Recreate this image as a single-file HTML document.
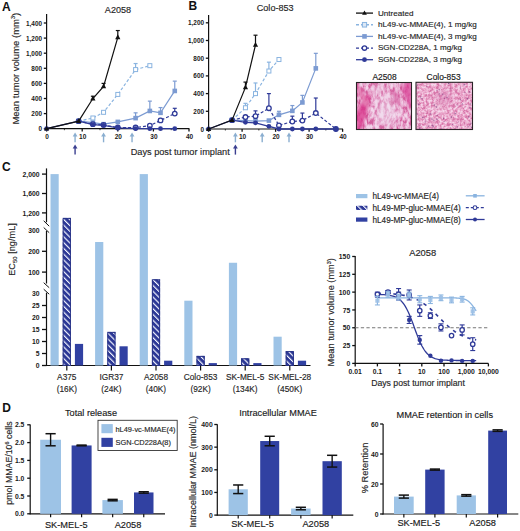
<!DOCTYPE html>
<html><head><meta charset="utf-8"><style>
html,body{margin:0;padding:0;background:#fff;width:520px;height:531px;overflow:hidden}
svg{display:block;font-family:"Liberation Sans",sans-serif}
</style></head><body>
<svg width="520" height="531" viewBox="0 0 520 531">
<defs>
<filter id="blur15" x="-20%" y="-20%" width="140%" height="140%"><feGaussianBlur stdDeviation="1.5"/></filter>
<filter id="blur3" x="-30%" y="-30%" width="160%" height="160%"><feGaussianBlur stdDeviation="3"/></filter>
<filter id="tex1" x="0" y="0" width="100%" height="100%" color-interpolation-filters="sRGB">
<feTurbulence type="fractalNoise" baseFrequency="0.32 0.16" numOctaves="3" seed="4" result="n"/>
<feColorMatrix in="n" type="matrix" values="1 0 0 0 0  1 0 0 0 0  1 0 0 0 0  0 0 0 0 1" result="g"/>
<feComponentTransfer in="g" result="s"><feFuncR type="linear" slope="2.4" intercept="-0.7"/><feFuncG type="linear" slope="2.4" intercept="-0.7"/><feFuncB type="linear" slope="2.4" intercept="-0.7"/></feComponentTransfer>
<feComponentTransfer in="s"><feFuncR type="table" tableValues="0.83 0.89 0.93 0.95"/><feFuncG type="table" tableValues="0.38 0.58 0.74 0.84"/><feFuncB type="table" tableValues="0.62 0.76 0.86 0.92"/></feComponentTransfer>
</filter>
<filter id="tex2" x="0" y="0" width="100%" height="100%" color-interpolation-filters="sRGB">
<feTurbulence type="fractalNoise" baseFrequency="0.38" numOctaves="3" seed="8" result="n"/>
<feColorMatrix in="n" type="matrix" values="1 0 0 0 0  1 0 0 0 0  1 0 0 0 0  0 0 0 0 1" result="g"/>
<feComponentTransfer in="g" result="s"><feFuncR type="linear" slope="2.3" intercept="-0.65"/><feFuncG type="linear" slope="2.3" intercept="-0.65"/><feFuncB type="linear" slope="2.3" intercept="-0.65"/></feComponentTransfer>
<feComponentTransfer in="s"><feFuncR type="table" tableValues="0.84 0.90 0.94 0.96"/><feFuncG type="table" tableValues="0.46 0.60 0.72 0.84"/><feFuncB type="table" tableValues="0.66 0.76 0.84 0.92"/></feComponentTransfer>
</filter>
</defs>
<rect width="520" height="531" fill="#fff"/>
<text x="1.90" y="10.80" font-size="12" text-anchor="start" font-weight="bold" fill="#111" stroke="#111" stroke-width="0.0" >A</text>
<text x="188.40" y="10.20" font-size="12" text-anchor="start" font-weight="bold" fill="#111" stroke="#111" stroke-width="0.0" >B</text>
<text x="2.00" y="170.50" font-size="12" text-anchor="start" font-weight="bold" fill="#111" stroke="#111" stroke-width="0.0" >C</text>
<text x="2.30" y="411.70" font-size="12" text-anchor="start" font-weight="bold" fill="#111" stroke="#111" stroke-width="0.0" >D</text>
<line x1="46.60" y1="14.00" x2="46.60" y2="129.20" stroke="#111" stroke-width="1.2" />
<line x1="46.10" y1="128.70" x2="189.40" y2="128.70" stroke="#111" stroke-width="1.2" />
<line x1="43.80" y1="128.70" x2="46.60" y2="128.70" stroke="#111" stroke-width="1.3" />
<text x="42.00" y="131.20" font-size="6.4" text-anchor="end" font-weight="bold" fill="#1a1a1a" stroke="#1a1a1a" stroke-width="0.0" >0</text>
<line x1="43.80" y1="113.60" x2="46.60" y2="113.60" stroke="#111" stroke-width="1.3" />
<text x="42.00" y="116.10" font-size="6.4" text-anchor="end" font-weight="bold" fill="#1a1a1a" stroke="#1a1a1a" stroke-width="0.0" >200</text>
<line x1="43.80" y1="98.50" x2="46.60" y2="98.50" stroke="#111" stroke-width="1.3" />
<text x="42.00" y="101.00" font-size="6.4" text-anchor="end" font-weight="bold" fill="#1a1a1a" stroke="#1a1a1a" stroke-width="0.0" >400</text>
<line x1="43.80" y1="83.40" x2="46.60" y2="83.40" stroke="#111" stroke-width="1.3" />
<text x="42.00" y="85.90" font-size="6.4" text-anchor="end" font-weight="bold" fill="#1a1a1a" stroke="#1a1a1a" stroke-width="0.0" >600</text>
<line x1="43.80" y1="68.30" x2="46.60" y2="68.30" stroke="#111" stroke-width="1.3" />
<text x="42.00" y="70.80" font-size="6.4" text-anchor="end" font-weight="bold" fill="#1a1a1a" stroke="#1a1a1a" stroke-width="0.0" >800</text>
<line x1="43.80" y1="53.20" x2="46.60" y2="53.20" stroke="#111" stroke-width="1.3" />
<text x="42.00" y="55.70" font-size="6.4" text-anchor="end" font-weight="bold" fill="#1a1a1a" stroke="#1a1a1a" stroke-width="0.0" >1,000</text>
<line x1="43.80" y1="38.10" x2="46.60" y2="38.10" stroke="#111" stroke-width="1.3" />
<text x="42.00" y="40.60" font-size="6.4" text-anchor="end" font-weight="bold" fill="#1a1a1a" stroke="#1a1a1a" stroke-width="0.0" >1,200</text>
<line x1="43.80" y1="23.00" x2="46.60" y2="23.00" stroke="#111" stroke-width="1.3" />
<text x="42.00" y="25.50" font-size="6.4" text-anchor="end" font-weight="bold" fill="#1a1a1a" stroke="#1a1a1a" stroke-width="0.0" >1,400</text>
<line x1="46.60" y1="128.70" x2="46.60" y2="131.50" stroke="#111" stroke-width="1.3" />
<text x="47.10" y="138.70" font-size="6.5" text-anchor="middle" font-weight="bold" fill="#1a1a1a" stroke="#1a1a1a" stroke-width="0.0" >0</text>
<line x1="82.20" y1="128.70" x2="82.20" y2="131.50" stroke="#111" stroke-width="1.3" />
<text x="82.70" y="138.70" font-size="6.5" text-anchor="middle" font-weight="bold" fill="#1a1a1a" stroke="#1a1a1a" stroke-width="0.0" >10</text>
<line x1="117.80" y1="128.70" x2="117.80" y2="131.50" stroke="#111" stroke-width="1.3" />
<text x="118.30" y="138.70" font-size="6.5" text-anchor="middle" font-weight="bold" fill="#1a1a1a" stroke="#1a1a1a" stroke-width="0.0" >20</text>
<line x1="153.40" y1="128.70" x2="153.40" y2="131.50" stroke="#111" stroke-width="1.3" />
<text x="153.90" y="138.70" font-size="6.5" text-anchor="middle" font-weight="bold" fill="#1a1a1a" stroke="#1a1a1a" stroke-width="0.0" >30</text>
<line x1="189.00" y1="128.70" x2="189.00" y2="131.50" stroke="#111" stroke-width="1.3" />
<text x="189.50" y="138.70" font-size="6.5" text-anchor="middle" font-weight="bold" fill="#1a1a1a" stroke="#1a1a1a" stroke-width="0.0" >40</text>
<line x1="64.40" y1="128.70" x2="64.40" y2="130.20" stroke="#111" stroke-width="0.8" />
<line x1="100.00" y1="128.70" x2="100.00" y2="130.20" stroke="#111" stroke-width="0.8" />
<line x1="135.60" y1="128.70" x2="135.60" y2="130.20" stroke="#111" stroke-width="0.8" />
<line x1="171.20" y1="128.70" x2="171.20" y2="130.20" stroke="#111" stroke-width="0.8" />
<text x="118.00" y="13.00" font-size="9.1" text-anchor="middle" font-weight="normal" fill="#262626" stroke="#262626" stroke-width="0.15" >A2058</text>
<polyline points="78.64,121.15 92.88,117.98 103.56,112.32 117.80,94.42 135.60,69.58 149.84,65.66" fill="none" stroke="#8ab4e0" stroke-width="1.2" stroke-dasharray="3,2"/>
<rect x="76.64" y="119.15" width="4" height="4" fill="#fff" stroke="#8ab4e0" stroke-width="1"/>
<rect x="90.88" y="115.98" width="4" height="4" fill="#fff" stroke="#8ab4e0" stroke-width="1"/>
<rect x="101.56" y="110.32" width="4" height="4" fill="#fff" stroke="#8ab4e0" stroke-width="1"/>
<rect x="115.80" y="92.42" width="4" height="4" fill="#fff" stroke="#8ab4e0" stroke-width="1"/>
<line x1="135.60" y1="69.58" x2="135.60" y2="63.54" stroke="#8ab4e0" stroke-width="1.2" />
<line x1="133.60" y1="63.54" x2="137.60" y2="63.54" stroke="#8ab4e0" stroke-width="1.2" />
<rect x="133.60" y="67.58" width="4" height="4" fill="#fff" stroke="#8ab4e0" stroke-width="1"/>
<rect x="147.84" y="63.66" width="4" height="4" fill="#fff" stroke="#8ab4e0" stroke-width="1"/>
<polyline points="78.64,121.15 92.88,122.66 103.56,124.17 117.80,121.90 135.60,118.13 149.84,110.96 160.52,112.84 174.76,90.95" fill="none" stroke="#7c9bd2" stroke-width="1.2" />
<rect x="76.34" y="118.85" width="4.60" height="4.60" fill="#7c9bd2" />
<rect x="90.58" y="120.36" width="4.60" height="4.60" fill="#7c9bd2" />
<rect x="101.26" y="121.87" width="4.60" height="4.60" fill="#7c9bd2" />
<rect x="115.50" y="119.60" width="4.60" height="4.60" fill="#7c9bd2" />
<line x1="135.60" y1="118.13" x2="135.60" y2="112.84" stroke="#7c9bd2" stroke-width="1.2" />
<line x1="133.60" y1="112.84" x2="137.60" y2="112.84" stroke="#7c9bd2" stroke-width="1.2" />
<rect x="133.30" y="115.83" width="4.60" height="4.60" fill="#7c9bd2" />
<line x1="149.84" y1="110.96" x2="149.84" y2="101.14" stroke="#7c9bd2" stroke-width="1.2" />
<line x1="147.84" y1="101.14" x2="151.84" y2="101.14" stroke="#7c9bd2" stroke-width="1.2" />
<rect x="147.54" y="108.66" width="4.60" height="4.60" fill="#7c9bd2" />
<line x1="160.52" y1="112.84" x2="160.52" y2="107.56" stroke="#7c9bd2" stroke-width="1.2" />
<line x1="158.52" y1="107.56" x2="162.52" y2="107.56" stroke="#7c9bd2" stroke-width="1.2" />
<rect x="158.22" y="110.54" width="4.60" height="4.60" fill="#7c9bd2" />
<line x1="174.76" y1="90.95" x2="174.76" y2="81.13" stroke="#7c9bd2" stroke-width="1.2" />
<line x1="172.76" y1="81.13" x2="176.76" y2="81.13" stroke="#7c9bd2" stroke-width="1.2" />
<rect x="172.46" y="88.65" width="4.60" height="4.60" fill="#7c9bd2" />
<polyline points="78.64,121.15 92.88,124.17 103.56,124.92 117.80,127.57 135.60,127.57 149.84,125.68 160.52,120.39 174.76,113.60" fill="none" stroke="#2f3a98" stroke-width="1.2" stroke-dasharray="3,2"/>
<circle cx="78.64" cy="121.15" r="2.3" fill="#fff" stroke="#2f3a98" stroke-width="1.3"/>
<circle cx="92.88" cy="124.17" r="2.3" fill="#fff" stroke="#2f3a98" stroke-width="1.3"/>
<circle cx="103.56" cy="124.92" r="2.3" fill="#fff" stroke="#2f3a98" stroke-width="1.3"/>
<circle cx="117.80" cy="127.57" r="2.3" fill="#fff" stroke="#2f3a98" stroke-width="1.3"/>
<circle cx="135.60" cy="127.57" r="2.3" fill="#fff" stroke="#2f3a98" stroke-width="1.3"/>
<circle cx="149.84" cy="125.68" r="2.3" fill="#fff" stroke="#2f3a98" stroke-width="1.3"/>
<line x1="160.52" y1="120.39" x2="160.52" y2="118.51" stroke="#2f3a98" stroke-width="1.2" />
<line x1="158.52" y1="118.51" x2="162.52" y2="118.51" stroke="#2f3a98" stroke-width="1.2" />
<circle cx="160.52" cy="120.39" r="2.3" fill="#fff" stroke="#2f3a98" stroke-width="1.3"/>
<line x1="174.76" y1="113.60" x2="174.76" y2="108.31" stroke="#2f3a98" stroke-width="1.2" />
<line x1="172.76" y1="108.31" x2="176.76" y2="108.31" stroke="#2f3a98" stroke-width="1.2" />
<circle cx="174.76" cy="113.60" r="2.3" fill="#fff" stroke="#2f3a98" stroke-width="1.3"/>
<polyline points="46.60,128.70 78.64,121.15 92.88,124.55 103.56,125.30 117.80,127.94 135.60,128.70 149.84,128.70 160.52,128.70 174.76,128.70" fill="none" stroke="#2f3a98" stroke-width="1.3" />
<circle cx="46.60" cy="128.70" r="2.4" fill="#2f3a98"/>
<circle cx="78.64" cy="121.15" r="2.4" fill="#2f3a98"/>
<circle cx="92.88" cy="124.55" r="2.4" fill="#2f3a98"/>
<circle cx="103.56" cy="125.30" r="2.4" fill="#2f3a98"/>
<circle cx="117.80" cy="127.94" r="2.4" fill="#2f3a98"/>
<circle cx="135.60" cy="128.70" r="2.4" fill="#2f3a98"/>
<circle cx="149.84" cy="128.70" r="2.4" fill="#2f3a98"/>
<circle cx="160.52" cy="128.70" r="2.4" fill="#2f3a98"/>
<circle cx="174.76" cy="128.70" r="2.4" fill="#2f3a98"/>
<polyline points="46.60,128.70 78.64,121.15 92.88,98.50 103.56,86.42 117.80,37.34" fill="none" stroke="#111" stroke-width="1.2" />
<polygon points="46.60,125.70 44.00,130.60 49.20,130.60" fill="#111"/>
<polygon points="78.64,118.15 76.04,123.05 81.24,123.05" fill="#111"/>
<line x1="92.88" y1="98.50" x2="92.88" y2="96.23" stroke="#111" stroke-width="1.2" />
<line x1="90.88" y1="96.23" x2="94.88" y2="96.23" stroke="#111" stroke-width="1.2" />
<polygon points="92.88,95.50 90.28,100.40 95.48,100.40" fill="#111"/>
<line x1="103.56" y1="86.42" x2="103.56" y2="83.40" stroke="#111" stroke-width="1.2" />
<line x1="101.56" y1="83.40" x2="105.56" y2="83.40" stroke="#111" stroke-width="1.2" />
<polygon points="103.56,83.42 100.96,88.32 106.16,88.32" fill="#111"/>
<line x1="117.80" y1="37.34" x2="117.80" y2="30.55" stroke="#111" stroke-width="1.2" />
<line x1="115.80" y1="30.55" x2="119.80" y2="30.55" stroke="#111" stroke-width="1.2" />
<polygon points="117.80,34.34 115.20,39.24 120.40,39.24" fill="#111"/>
<line x1="75.08" y1="135.10" x2="75.08" y2="142.30" stroke="#8aaed0" stroke-width="1.4" />
<polygon points="75.08,132.60 72.68,136.60 77.48,136.60" fill="#8aaed0"/>
<line x1="103.56" y1="135.10" x2="103.56" y2="142.30" stroke="#8aaed0" stroke-width="1.4" />
<polygon points="103.56,132.60 101.16,136.60 105.96,136.60" fill="#8aaed0"/>
<line x1="132.04" y1="135.10" x2="132.04" y2="142.30" stroke="#8aaed0" stroke-width="1.4" />
<polygon points="132.04,132.60 129.64,136.60 134.44,136.60" fill="#8aaed0"/>
<line x1="75.08" y1="147.10" x2="75.08" y2="154.60" stroke="#3b3f90" stroke-width="1.4" />
<polygon points="75.08,144.60 72.68,148.60 77.48,148.60" fill="#3b3f90"/>
<line x1="208.60" y1="15.00" x2="208.60" y2="129.50" stroke="#111" stroke-width="1.2" />
<line x1="208.10" y1="129.00" x2="343.00" y2="129.00" stroke="#111" stroke-width="1.2" />
<line x1="205.80" y1="129.00" x2="208.60" y2="129.00" stroke="#111" stroke-width="1.3" />
<text x="204.00" y="131.50" font-size="6.4" text-anchor="end" font-weight="bold" fill="#1a1a1a" stroke="#1a1a1a" stroke-width="0.0" >0</text>
<line x1="205.80" y1="111.30" x2="208.60" y2="111.30" stroke="#111" stroke-width="1.3" />
<text x="204.00" y="113.80" font-size="6.4" text-anchor="end" font-weight="bold" fill="#1a1a1a" stroke="#1a1a1a" stroke-width="0.0" >200</text>
<line x1="205.80" y1="93.60" x2="208.60" y2="93.60" stroke="#111" stroke-width="1.3" />
<text x="204.00" y="96.10" font-size="6.4" text-anchor="end" font-weight="bold" fill="#1a1a1a" stroke="#1a1a1a" stroke-width="0.0" >400</text>
<line x1="205.80" y1="75.90" x2="208.60" y2="75.90" stroke="#111" stroke-width="1.3" />
<text x="204.00" y="78.40" font-size="6.4" text-anchor="end" font-weight="bold" fill="#1a1a1a" stroke="#1a1a1a" stroke-width="0.0" >600</text>
<line x1="205.80" y1="58.20" x2="208.60" y2="58.20" stroke="#111" stroke-width="1.3" />
<text x="204.00" y="60.70" font-size="6.4" text-anchor="end" font-weight="bold" fill="#1a1a1a" stroke="#1a1a1a" stroke-width="0.0" >800</text>
<line x1="205.80" y1="40.50" x2="208.60" y2="40.50" stroke="#111" stroke-width="1.3" />
<text x="204.00" y="43.00" font-size="6.4" text-anchor="end" font-weight="bold" fill="#1a1a1a" stroke="#1a1a1a" stroke-width="0.0" >1,000</text>
<line x1="205.80" y1="22.80" x2="208.60" y2="22.80" stroke="#111" stroke-width="1.3" />
<text x="204.00" y="25.30" font-size="6.4" text-anchor="end" font-weight="bold" fill="#1a1a1a" stroke="#1a1a1a" stroke-width="0.0" >1,200</text>
<line x1="208.60" y1="129.00" x2="208.60" y2="131.80" stroke="#111" stroke-width="1.3" />
<text x="209.10" y="139.00" font-size="6.5" text-anchor="middle" font-weight="bold" fill="#1a1a1a" stroke="#1a1a1a" stroke-width="0.0" >0</text>
<line x1="242.10" y1="129.00" x2="242.10" y2="131.80" stroke="#111" stroke-width="1.3" />
<text x="242.60" y="139.00" font-size="6.5" text-anchor="middle" font-weight="bold" fill="#1a1a1a" stroke="#1a1a1a" stroke-width="0.0" >10</text>
<line x1="275.60" y1="129.00" x2="275.60" y2="131.80" stroke="#111" stroke-width="1.3" />
<text x="276.10" y="139.00" font-size="6.5" text-anchor="middle" font-weight="bold" fill="#1a1a1a" stroke="#1a1a1a" stroke-width="0.0" >20</text>
<line x1="309.10" y1="129.00" x2="309.10" y2="131.80" stroke="#111" stroke-width="1.3" />
<text x="309.60" y="139.00" font-size="6.5" text-anchor="middle" font-weight="bold" fill="#1a1a1a" stroke="#1a1a1a" stroke-width="0.0" >30</text>
<line x1="342.60" y1="129.00" x2="342.60" y2="131.80" stroke="#111" stroke-width="1.3" />
<text x="343.10" y="139.00" font-size="6.5" text-anchor="middle" font-weight="bold" fill="#1a1a1a" stroke="#1a1a1a" stroke-width="0.0" >40</text>
<line x1="225.35" y1="129.00" x2="225.35" y2="130.50" stroke="#111" stroke-width="0.8" />
<line x1="258.85" y1="129.00" x2="258.85" y2="130.50" stroke="#111" stroke-width="0.8" />
<line x1="292.35" y1="129.00" x2="292.35" y2="130.50" stroke="#111" stroke-width="0.8" />
<line x1="325.85" y1="129.00" x2="325.85" y2="130.50" stroke="#111" stroke-width="0.8" />
<text x="275.20" y="10.80" font-size="9.1" text-anchor="middle" font-weight="normal" fill="#262626" stroke="#262626" stroke-width="0.15" >Colo-853</text>
<polyline points="232.05,120.15 245.45,107.76 255.50,93.60 268.90,71.03 278.95,59.53" fill="none" stroke="#8ab4e0" stroke-width="1.2" stroke-dasharray="3,2"/>
<rect x="230.05" y="118.15" width="4" height="4" fill="#fff" stroke="#8ab4e0" stroke-width="1"/>
<line x1="245.45" y1="107.76" x2="245.45" y2="103.34" stroke="#8ab4e0" stroke-width="1.2" />
<line x1="243.45" y1="103.34" x2="247.45" y2="103.34" stroke="#8ab4e0" stroke-width="1.2" />
<rect x="243.45" y="105.76" width="4" height="4" fill="#fff" stroke="#8ab4e0" stroke-width="1"/>
<line x1="255.50" y1="93.60" x2="255.50" y2="82.98" stroke="#8ab4e0" stroke-width="1.2" />
<line x1="253.50" y1="82.98" x2="257.50" y2="82.98" stroke="#8ab4e0" stroke-width="1.2" />
<rect x="253.50" y="91.60" width="4" height="4" fill="#fff" stroke="#8ab4e0" stroke-width="1"/>
<line x1="268.90" y1="71.03" x2="268.90" y2="62.18" stroke="#8ab4e0" stroke-width="1.2" />
<line x1="266.90" y1="62.18" x2="270.90" y2="62.18" stroke="#8ab4e0" stroke-width="1.2" />
<rect x="266.90" y="69.03" width="4" height="4" fill="#fff" stroke="#8ab4e0" stroke-width="1"/>
<rect x="276.95" y="57.53" width="4" height="4" fill="#fff" stroke="#8ab4e0" stroke-width="1"/>
<polyline points="232.05,120.15 245.45,120.59 255.50,121.03 268.90,120.59 278.95,114.84 292.35,110.86 302.40,102.45 315.80,68.38" fill="none" stroke="#7c9bd2" stroke-width="1.2" />
<rect x="229.75" y="117.85" width="4.60" height="4.60" fill="#7c9bd2" />
<rect x="243.15" y="118.29" width="4.60" height="4.60" fill="#7c9bd2" />
<rect x="253.20" y="118.73" width="4.60" height="4.60" fill="#7c9bd2" />
<rect x="266.60" y="118.29" width="4.60" height="4.60" fill="#7c9bd2" />
<line x1="278.95" y1="114.84" x2="278.95" y2="111.30" stroke="#7c9bd2" stroke-width="1.2" />
<line x1="276.95" y1="111.30" x2="280.95" y2="111.30" stroke="#7c9bd2" stroke-width="1.2" />
<rect x="276.65" y="112.54" width="4.60" height="4.60" fill="#7c9bd2" />
<line x1="292.35" y1="110.86" x2="292.35" y2="105.55" stroke="#7c9bd2" stroke-width="1.2" />
<line x1="290.35" y1="105.55" x2="294.35" y2="105.55" stroke="#7c9bd2" stroke-width="1.2" />
<rect x="290.05" y="108.56" width="4.60" height="4.60" fill="#7c9bd2" />
<line x1="302.40" y1="102.45" x2="302.40" y2="95.37" stroke="#7c9bd2" stroke-width="1.2" />
<line x1="300.40" y1="95.37" x2="304.40" y2="95.37" stroke="#7c9bd2" stroke-width="1.2" />
<rect x="300.10" y="100.15" width="4.60" height="4.60" fill="#7c9bd2" />
<line x1="315.80" y1="68.38" x2="315.80" y2="53.33" stroke="#7c9bd2" stroke-width="1.2" />
<line x1="313.80" y1="53.33" x2="317.80" y2="53.33" stroke="#7c9bd2" stroke-width="1.2" />
<rect x="313.50" y="66.08" width="4.60" height="4.60" fill="#7c9bd2" />
<polyline points="232.05,120.15 245.45,117.05 255.50,116.17 268.90,108.20 278.95,125.46 292.35,121.48 302.40,120.59 315.80,113.07 335.90,129.00" fill="none" stroke="#2f3a98" stroke-width="1.2" stroke-dasharray="3,2"/>
<circle cx="232.05" cy="120.15" r="2.3" fill="#fff" stroke="#2f3a98" stroke-width="1.3"/>
<circle cx="245.45" cy="117.05" r="2.3" fill="#fff" stroke="#2f3a98" stroke-width="1.3"/>
<line x1="255.50" y1="116.17" x2="255.50" y2="110.86" stroke="#2f3a98" stroke-width="1.2" />
<line x1="253.50" y1="110.86" x2="257.50" y2="110.86" stroke="#2f3a98" stroke-width="1.2" />
<circle cx="255.50" cy="116.17" r="2.3" fill="#fff" stroke="#2f3a98" stroke-width="1.3"/>
<line x1="268.90" y1="108.20" x2="268.90" y2="93.60" stroke="#2f3a98" stroke-width="1.2" />
<line x1="266.90" y1="93.60" x2="270.90" y2="93.60" stroke="#2f3a98" stroke-width="1.2" />
<circle cx="268.90" cy="108.20" r="2.3" fill="#fff" stroke="#2f3a98" stroke-width="1.3"/>
<circle cx="278.95" cy="125.46" r="2.3" fill="#fff" stroke="#2f3a98" stroke-width="1.3"/>
<line x1="292.35" y1="121.48" x2="292.35" y2="116.17" stroke="#2f3a98" stroke-width="1.2" />
<line x1="290.35" y1="116.17" x2="294.35" y2="116.17" stroke="#2f3a98" stroke-width="1.2" />
<circle cx="292.35" cy="121.48" r="2.3" fill="#fff" stroke="#2f3a98" stroke-width="1.3"/>
<line x1="302.40" y1="120.59" x2="302.40" y2="113.07" stroke="#2f3a98" stroke-width="1.2" />
<line x1="300.40" y1="113.07" x2="304.40" y2="113.07" stroke="#2f3a98" stroke-width="1.2" />
<circle cx="302.40" cy="120.59" r="2.3" fill="#fff" stroke="#2f3a98" stroke-width="1.3"/>
<line x1="315.80" y1="113.07" x2="315.80" y2="98.03" stroke="#2f3a98" stroke-width="1.2" />
<line x1="313.80" y1="98.03" x2="317.80" y2="98.03" stroke="#2f3a98" stroke-width="1.2" />
<circle cx="315.80" cy="113.07" r="2.3" fill="#fff" stroke="#2f3a98" stroke-width="1.3"/>
<circle cx="335.90" cy="129.00" r="2.3" fill="#fff" stroke="#2f3a98" stroke-width="1.3"/>
<polyline points="208.60,129.00 232.05,120.15 245.45,122.36 255.50,122.81 268.90,126.34 278.95,129.00 292.35,129.00 302.40,129.00 315.80,129.00 335.90,129.00" fill="none" stroke="#2f3a98" stroke-width="1.3" />
<circle cx="208.60" cy="129.00" r="2.4" fill="#2f3a98"/>
<circle cx="232.05" cy="120.15" r="2.4" fill="#2f3a98"/>
<circle cx="245.45" cy="122.36" r="2.4" fill="#2f3a98"/>
<circle cx="255.50" cy="122.81" r="2.4" fill="#2f3a98"/>
<circle cx="268.90" cy="126.34" r="2.4" fill="#2f3a98"/>
<circle cx="278.95" cy="129.00" r="2.4" fill="#2f3a98"/>
<circle cx="292.35" cy="129.00" r="2.4" fill="#2f3a98"/>
<circle cx="302.40" cy="129.00" r="2.4" fill="#2f3a98"/>
<circle cx="315.80" cy="129.00" r="2.4" fill="#2f3a98"/>
<circle cx="335.90" cy="129.00" r="2.4" fill="#2f3a98"/>
<polyline points="208.60,129.00 232.05,120.15 245.45,87.41 255.50,44.93" fill="none" stroke="#111" stroke-width="1.2" />
<polygon points="208.60,126.00 206.00,130.90 211.20,130.90" fill="#111"/>
<polygon points="232.05,117.15 229.45,122.05 234.65,122.05" fill="#111"/>
<line x1="245.45" y1="87.41" x2="245.45" y2="82.09" stroke="#111" stroke-width="1.2" />
<line x1="243.45" y1="82.09" x2="247.45" y2="82.09" stroke="#111" stroke-width="1.2" />
<polygon points="245.45,84.41 242.85,89.31 248.05,89.31" fill="#111"/>
<line x1="255.50" y1="44.93" x2="255.50" y2="35.19" stroke="#111" stroke-width="1.2" />
<line x1="253.50" y1="35.19" x2="257.50" y2="35.19" stroke="#111" stroke-width="1.2" />
<polygon points="255.50,41.93 252.90,46.83 258.10,46.83" fill="#111"/>
<line x1="235.40" y1="135.10" x2="235.40" y2="142.30" stroke="#8aaed0" stroke-width="1.4" />
<polygon points="235.40,132.60 233.00,136.60 237.80,136.60" fill="#8aaed0"/>
<line x1="262.20" y1="135.10" x2="262.20" y2="142.30" stroke="#8aaed0" stroke-width="1.4" />
<polygon points="262.20,132.60 259.80,136.60 264.60,136.60" fill="#8aaed0"/>
<line x1="289.00" y1="135.10" x2="289.00" y2="142.30" stroke="#8aaed0" stroke-width="1.4" />
<polygon points="289.00,132.60 286.60,136.60 291.40,136.60" fill="#8aaed0"/>
<line x1="235.40" y1="147.10" x2="235.40" y2="154.60" stroke="#3b3f90" stroke-width="1.4" />
<polygon points="235.40,144.60 233.00,148.60 237.80,148.60" fill="#3b3f90"/>
<text x="0.00" y="0.00" font-size="9.5" text-anchor="middle" font-weight="normal" fill="#262626" stroke="#262626" stroke-width="0.15" transform="translate(18.9,68.7) rotate(-90)">Mean tumor volume (mm<tspan font-size="5.5" dy="-3.5">3</tspan><tspan dy="3.5">)</tspan></text>
<text x="180.20" y="155.30" font-size="9.2" text-anchor="middle" font-weight="normal" fill="#262626" stroke="#262626" stroke-width="0.15" >Days post tumor implant</text>
<line x1="356.00" y1="13.10" x2="373.00" y2="13.10" stroke="#111" stroke-width="1.3" />
<polygon points="364.50,10.50 362.10,14.70 366.90,14.70" fill="#111"/>
<text x="377.90" y="15.50" font-size="8.1" text-anchor="start" font-weight="normal" fill="#262626" stroke="#262626" stroke-width="0.15" >Untreated</text>
<line x1="356.00" y1="24.75" x2="373.00" y2="24.75" stroke="#8ab4e0" stroke-width="1.3" stroke-dasharray="3,2"/>
<rect x="362.40" y="22.45" width="4.2" height="4.6" fill="#dde8f6" stroke="#8ab4e0" stroke-width="1"/>
<text x="377.90" y="27.15" font-size="8.1" text-anchor="start" font-weight="normal" fill="#262626" stroke="#262626" stroke-width="0.15" >hL49-vc-MMAE(4), 1 mg/kg</text>
<line x1="356.00" y1="36.40" x2="373.00" y2="36.40" stroke="#7c9bd2" stroke-width="1.3" />
<rect x="362.20" y="34.10" width="4.60" height="4.60" fill="#7c9bd2" />
<text x="377.90" y="38.80" font-size="8.1" text-anchor="start" font-weight="normal" fill="#262626" stroke="#262626" stroke-width="0.15" >hL49-vc-MMAE(4), 3 mg/kg</text>
<line x1="356.00" y1="48.05" x2="373.00" y2="48.05" stroke="#2f3a98" stroke-width="1.3" stroke-dasharray="3,2"/>
<circle cx="364.50" cy="48.05" r="2.2" fill="#fff" stroke="#2f3a98" stroke-width="1.3"/>
<text x="377.90" y="50.45" font-size="8.1" text-anchor="start" font-weight="normal" fill="#262626" stroke="#262626" stroke-width="0.15" >SGN-CD228A, 1 mg/kg</text>
<line x1="356.00" y1="59.70" x2="373.00" y2="59.70" stroke="#2f3a98" stroke-width="1.3" />
<circle cx="364.50" cy="59.70" r="2.4" fill="#2f3a98"/>
<text x="377.90" y="62.10" font-size="8.1" text-anchor="start" font-weight="normal" fill="#262626" stroke="#262626" stroke-width="0.15" >SGN-CD228A, 3 mg/kg</text>
<text x="384.50" y="79.80" font-size="8.4" text-anchor="middle" font-weight="normal" fill="#1a1a1a" stroke="#1a1a1a" stroke-width="0.15" >A2508</text>
<text x="443.60" y="79.80" font-size="8.4" text-anchor="middle" font-weight="normal" fill="#1a1a1a" stroke="#1a1a1a" stroke-width="0.15" >Colo-853</text>
<clipPath id="cp1"><rect x="356.5" y="82.5" width="55" height="47"/></clipPath>
<clipPath id="cp2"><rect x="416" y="82.3" width="56.5" height="47.2"/></clipPath>
<g clip-path="url(#cp1)">
<rect x="356.5" y="82.5" width="55" height="47" fill="#e8a8cc" filter="url(#tex1)"/>
<g filter="url(#blur15)" opacity="0.75">
<path d="M356,131 L356,112 C360,104 364,96 370,92 C372,98 368,108 366,116 C364,122 362,128 360,131 Z" fill="#d83088"/>
<path d="M358,84 C362,90 366,96 369,104 L366,108 C362,100 358,94 356,88 Z" fill="#e060a0"/>
<path d="M404,82 L412,82 L412,112 C408,104 404,96 402,90 Z" fill="#d84094"/>
<ellipse cx="396" cy="98" rx="3" ry="9" fill="#d86aa8" transform="rotate(-25 396 98)"/>
</g>
<g filter="url(#blur3)" opacity="0.55">
<ellipse cx="386" cy="112" rx="10" ry="13" fill="#f0e0f0"/>
<ellipse cx="378" cy="90" rx="6" ry="6" fill="#eed0e6"/>
</g>
</g>
<g clip-path="url(#cp2)">
<rect x="416" y="82.3" width="56.5" height="47.2" fill="#e6a8cc" filter="url(#tex2)"/>
<g filter="url(#blur3)" opacity="0.5">
<ellipse cx="444" cy="98" rx="9" ry="7" fill="#d880b4"/>
<ellipse cx="438" cy="108" rx="3" ry="4" fill="#f8f0f8"/>
</g>
<circle cx="451.3" cy="117.1" r="0.78" fill="#6a3478" opacity="0.6"/>
<circle cx="468.8" cy="117.0" r="0.82" fill="#6a3478" opacity="0.6"/>
<circle cx="418.6" cy="104.4" r="0.83" fill="#6a3478" opacity="0.6"/>
<circle cx="452.7" cy="124.4" r="0.54" fill="#6a3478" opacity="0.6"/>
<circle cx="442.8" cy="94.3" r="0.69" fill="#6a3478" opacity="0.6"/>
<circle cx="448.6" cy="83.6" r="0.58" fill="#6a3478" opacity="0.6"/>
<circle cx="432.4" cy="125.2" r="0.77" fill="#6a3478" opacity="0.6"/>
<circle cx="425.8" cy="119.7" r="0.55" fill="#6a3478" opacity="0.6"/>
<circle cx="451.0" cy="88.8" r="0.50" fill="#6a3478" opacity="0.6"/>
<circle cx="464.9" cy="92.6" r="0.58" fill="#6a3478" opacity="0.6"/>
<circle cx="471.0" cy="123.1" r="0.60" fill="#6a3478" opacity="0.6"/>
<circle cx="469.9" cy="107.8" r="0.74" fill="#6a3478" opacity="0.6"/>
<circle cx="428.3" cy="126.3" r="0.74" fill="#6a3478" opacity="0.6"/>
<circle cx="470.2" cy="124.1" r="0.60" fill="#6a3478" opacity="0.6"/>
<circle cx="436.9" cy="90.6" r="0.55" fill="#6a3478" opacity="0.6"/>
<circle cx="420.6" cy="96.9" r="0.71" fill="#6a3478" opacity="0.6"/>
<circle cx="417.2" cy="114.2" r="0.62" fill="#6a3478" opacity="0.6"/>
<circle cx="434.0" cy="120.7" r="0.67" fill="#6a3478" opacity="0.6"/>
<circle cx="434.4" cy="105.1" r="0.75" fill="#6a3478" opacity="0.6"/>
<circle cx="420.1" cy="127.9" r="0.51" fill="#6a3478" opacity="0.6"/>
<circle cx="458.2" cy="121.9" r="0.51" fill="#6a3478" opacity="0.6"/>
<circle cx="460.3" cy="99.8" r="0.70" fill="#6a3478" opacity="0.6"/>
<circle cx="417.5" cy="85.1" r="0.56" fill="#6a3478" opacity="0.6"/>
<circle cx="469.5" cy="92.0" r="0.76" fill="#6a3478" opacity="0.6"/>
<circle cx="468.1" cy="126.3" r="0.62" fill="#6a3478" opacity="0.6"/>
<circle cx="436.5" cy="107.1" r="0.77" fill="#6a3478" opacity="0.6"/>
<circle cx="422.9" cy="117.4" r="0.78" fill="#6a3478" opacity="0.6"/>
<circle cx="464.3" cy="84.7" r="0.83" fill="#6a3478" opacity="0.6"/>
<circle cx="422.0" cy="98.7" r="0.71" fill="#6a3478" opacity="0.6"/>
<circle cx="467.5" cy="98.6" r="0.82" fill="#6a3478" opacity="0.6"/>
<circle cx="447.0" cy="97.4" r="0.61" fill="#6a3478" opacity="0.6"/>
<circle cx="426.8" cy="86.6" r="0.55" fill="#6a3478" opacity="0.6"/>
<circle cx="454.9" cy="128.8" r="0.56" fill="#6a3478" opacity="0.6"/>
<circle cx="419.7" cy="128.4" r="0.69" fill="#6a3478" opacity="0.6"/>
<circle cx="439.3" cy="93.9" r="0.71" fill="#6a3478" opacity="0.6"/>
<circle cx="462.4" cy="104.0" r="0.65" fill="#6a3478" opacity="0.6"/>
<circle cx="420.1" cy="125.1" r="0.51" fill="#6a3478" opacity="0.6"/>
<circle cx="444.1" cy="121.6" r="0.55" fill="#6a3478" opacity="0.6"/>
<circle cx="457.2" cy="126.7" r="0.72" fill="#6a3478" opacity="0.6"/>
<circle cx="460.3" cy="87.9" r="0.65" fill="#6a3478" opacity="0.6"/>
<circle cx="425.2" cy="121.9" r="0.60" fill="#6a3478" opacity="0.6"/>
<circle cx="441.9" cy="129.0" r="0.80" fill="#6a3478" opacity="0.6"/>
<circle cx="470.7" cy="103.9" r="0.67" fill="#6a3478" opacity="0.6"/>
<circle cx="457.1" cy="105.0" r="0.60" fill="#6a3478" opacity="0.6"/>
<circle cx="439.2" cy="89.7" r="0.63" fill="#6a3478" opacity="0.6"/>
<circle cx="471.4" cy="127.2" r="0.72" fill="#6a3478" opacity="0.6"/>
<circle cx="444.5" cy="98.6" r="0.53" fill="#6a3478" opacity="0.6"/>
<circle cx="432.0" cy="119.0" r="0.80" fill="#6a3478" opacity="0.6"/>
<circle cx="436.9" cy="119.2" r="0.77" fill="#6a3478" opacity="0.6"/>
<circle cx="455.2" cy="113.5" r="0.77" fill="#6a3478" opacity="0.6"/>
<circle cx="437.0" cy="115.4" r="0.60" fill="#6a3478" opacity="0.6"/>
<circle cx="443.7" cy="118.4" r="0.74" fill="#6a3478" opacity="0.6"/>
<circle cx="433.2" cy="126.5" r="0.73" fill="#6a3478" opacity="0.6"/>
<circle cx="448.9" cy="83.5" r="0.69" fill="#6a3478" opacity="0.6"/>
<circle cx="430.8" cy="113.9" r="0.66" fill="#6a3478" opacity="0.6"/>
</g>
<rect x="356.5" y="82.5" width="55" height="47" fill="none" stroke="#2a2226" stroke-width="1.1"/>
<rect x="416" y="82.3" width="56.5" height="47.2" fill="none" stroke="#2a2226" stroke-width="1.1"/>
<line x1="46.50" y1="168.40" x2="46.50" y2="222.30" stroke="#111" stroke-width="1.2" />
<line x1="46.50" y1="231.00" x2="46.50" y2="283.50" stroke="#111" stroke-width="1.2" />
<line x1="46.50" y1="292.70" x2="46.50" y2="366.00" stroke="#111" stroke-width="1.2" />
<line x1="43.70" y1="220.80" x2="49.20" y2="226.20" stroke="#111" stroke-width="1" />
<line x1="43.70" y1="227.50" x2="49.20" y2="232.70" stroke="#111" stroke-width="1" />
<line x1="43.70" y1="282.70" x2="49.20" y2="287.70" stroke="#111" stroke-width="1" />
<line x1="43.70" y1="289.20" x2="49.20" y2="294.20" stroke="#111" stroke-width="1" />
<line x1="46.00" y1="365.50" x2="310.50" y2="365.50" stroke="#111" stroke-width="1.2" />
<line x1="42.00" y1="365.50" x2="46.50" y2="365.50" stroke="#111" stroke-width="1.3" />
<text x="39.50" y="368.10" font-size="6.8" text-anchor="end" font-weight="bold" fill="#1a1a1a" stroke="#1a1a1a" stroke-width="0.0" >0</text>
<line x1="42.00" y1="353.50" x2="46.50" y2="353.50" stroke="#111" stroke-width="1.3" />
<text x="39.50" y="356.10" font-size="6.8" text-anchor="end" font-weight="bold" fill="#1a1a1a" stroke="#1a1a1a" stroke-width="0.0" >5</text>
<line x1="42.00" y1="341.50" x2="46.50" y2="341.50" stroke="#111" stroke-width="1.3" />
<text x="39.50" y="344.10" font-size="6.8" text-anchor="end" font-weight="bold" fill="#1a1a1a" stroke="#1a1a1a" stroke-width="0.0" >10</text>
<line x1="42.00" y1="329.50" x2="46.50" y2="329.50" stroke="#111" stroke-width="1.3" />
<text x="39.50" y="332.10" font-size="6.8" text-anchor="end" font-weight="bold" fill="#1a1a1a" stroke="#1a1a1a" stroke-width="0.0" >15</text>
<line x1="42.00" y1="317.50" x2="46.50" y2="317.50" stroke="#111" stroke-width="1.3" />
<text x="39.50" y="320.10" font-size="6.8" text-anchor="end" font-weight="bold" fill="#1a1a1a" stroke="#1a1a1a" stroke-width="0.0" >20</text>
<line x1="42.00" y1="305.50" x2="46.50" y2="305.50" stroke="#111" stroke-width="1.3" />
<text x="39.50" y="308.10" font-size="6.8" text-anchor="end" font-weight="bold" fill="#1a1a1a" stroke="#1a1a1a" stroke-width="0.0" >25</text>
<text x="39.50" y="296.10" font-size="6.8" text-anchor="end" font-weight="bold" fill="#1a1a1a" stroke="#1a1a1a" stroke-width="0.0" >30</text>
<line x1="42.00" y1="272.10" x2="46.50" y2="272.10" stroke="#111" stroke-width="1.3" />
<text x="39.50" y="274.70" font-size="6.8" text-anchor="end" font-weight="bold" fill="#1a1a1a" stroke="#1a1a1a" stroke-width="0.0" >100</text>
<line x1="42.00" y1="251.30" x2="46.50" y2="251.30" stroke="#111" stroke-width="1.3" />
<text x="39.50" y="253.90" font-size="6.8" text-anchor="end" font-weight="bold" fill="#1a1a1a" stroke="#1a1a1a" stroke-width="0.0" >200</text>
<text x="39.50" y="233.20" font-size="6.8" text-anchor="end" font-weight="bold" fill="#1a1a1a" stroke="#1a1a1a" stroke-width="0.0" >300</text>
<line x1="42.00" y1="212.90" x2="46.50" y2="212.90" stroke="#111" stroke-width="1.3" />
<text x="39.50" y="215.50" font-size="6.8" text-anchor="end" font-weight="bold" fill="#1a1a1a" stroke="#1a1a1a" stroke-width="0.0" >1,200</text>
<line x1="42.00" y1="193.50" x2="46.50" y2="193.50" stroke="#111" stroke-width="1.3" />
<text x="39.50" y="196.10" font-size="6.8" text-anchor="end" font-weight="bold" fill="#1a1a1a" stroke="#1a1a1a" stroke-width="0.0" >1,600</text>
<line x1="42.00" y1="174.10" x2="46.50" y2="174.10" stroke="#111" stroke-width="1.3" />
<text x="39.50" y="176.70" font-size="6.8" text-anchor="end" font-weight="bold" fill="#1a1a1a" stroke="#1a1a1a" stroke-width="0.0" >2,000</text>
<text x="0.00" y="0.00" font-size="9.2" text-anchor="middle" font-weight="normal" fill="#262626" stroke="#262626" stroke-width="0.15" transform="translate(15.3,249.5) rotate(-90)">EC<tspan font-size="6" dy="2">50</tspan><tspan dy="-2"> [ng/mL]</tspan></text>
<defs><pattern id="hatch" patternUnits="userSpaceOnUse" width="4.1" height="4.1" patternTransform="rotate(-45)"><rect width="4.1" height="4.1" fill="#2c3896"/><rect x="0" y="0" width="1.15" height="4.1" fill="#f4f6ff"/></pattern></defs>
<rect x="50.50" y="174.10" width="8.20" height="191.40" fill="#9dc3e6" />
<rect x="62.70" y="217.91" width="8.20" height="147.59" fill="url(#hatch)" />
<rect x="63.20" y="218.41" width="7.2" height="147.09" fill="none" stroke="#283488" stroke-width="1"/>
<rect x="74.90" y="343.90" width="8.20" height="21.60" fill="#3141a2" />
<line x1="66.80" y1="365.50" x2="66.80" y2="370.50" stroke="#111" stroke-width="1.2" />
<text x="66.80" y="380.30" font-size="8.3" text-anchor="middle" font-weight="normal" fill="#262626" stroke="#262626" stroke-width="0.15" >A375</text>
<text x="66.80" y="392.20" font-size="8.3" text-anchor="middle" font-weight="normal" fill="#262626" stroke="#262626" stroke-width="0.15" >(16K)</text>
<rect x="95.10" y="242.01" width="8.20" height="123.49" fill="#9dc3e6" />
<rect x="107.30" y="331.90" width="8.20" height="33.60" fill="url(#hatch)" />
<rect x="107.80" y="332.40" width="7.2" height="33.10" fill="none" stroke="#283488" stroke-width="1"/>
<rect x="119.50" y="346.30" width="8.20" height="19.20" fill="#3141a2" />
<line x1="111.40" y1="365.50" x2="111.40" y2="370.50" stroke="#111" stroke-width="1.2" />
<text x="111.40" y="380.30" font-size="8.3" text-anchor="middle" font-weight="normal" fill="#262626" stroke="#262626" stroke-width="0.15" >IGR37</text>
<text x="111.40" y="392.20" font-size="8.3" text-anchor="middle" font-weight="normal" fill="#262626" stroke="#262626" stroke-width="0.15" >(24K)</text>
<rect x="139.70" y="174.10" width="8.20" height="191.40" fill="#9dc3e6" />
<rect x="151.90" y="279.28" width="8.20" height="86.22" fill="url(#hatch)" />
<rect x="152.40" y="279.78" width="7.2" height="85.72" fill="none" stroke="#283488" stroke-width="1"/>
<rect x="164.10" y="360.70" width="8.20" height="4.80" fill="#3141a2" />
<line x1="156.00" y1="365.50" x2="156.00" y2="370.50" stroke="#111" stroke-width="1.2" />
<text x="156.00" y="380.30" font-size="8.3" text-anchor="middle" font-weight="normal" fill="#262626" stroke="#262626" stroke-width="0.15" >A2058</text>
<text x="156.00" y="392.20" font-size="8.3" text-anchor="middle" font-weight="normal" fill="#262626" stroke="#262626" stroke-width="0.15" >(40K)</text>
<rect x="184.30" y="300.70" width="8.20" height="64.80" fill="#9dc3e6" />
<rect x="196.50" y="355.90" width="8.20" height="9.60" fill="url(#hatch)" />
<rect x="197.00" y="356.40" width="7.2" height="9.10" fill="none" stroke="#283488" stroke-width="1"/>
<rect x="208.70" y="363.10" width="8.20" height="2.40" fill="#3141a2" />
<line x1="200.60" y1="365.50" x2="200.60" y2="370.50" stroke="#111" stroke-width="1.2" />
<text x="200.60" y="380.30" font-size="8.3" text-anchor="middle" font-weight="normal" fill="#262626" stroke="#262626" stroke-width="0.15" >Colo-853</text>
<text x="200.60" y="392.20" font-size="8.3" text-anchor="middle" font-weight="normal" fill="#262626" stroke="#262626" stroke-width="0.15" >(92K)</text>
<rect x="228.90" y="262.76" width="8.20" height="102.74" fill="#9dc3e6" />
<rect x="241.10" y="358.30" width="8.20" height="7.20" fill="url(#hatch)" />
<rect x="241.60" y="358.80" width="7.2" height="6.70" fill="none" stroke="#283488" stroke-width="1"/>
<rect x="253.30" y="363.10" width="8.20" height="2.40" fill="#3141a2" />
<line x1="245.20" y1="365.50" x2="245.20" y2="370.50" stroke="#111" stroke-width="1.2" />
<text x="245.20" y="380.30" font-size="8.3" text-anchor="middle" font-weight="normal" fill="#262626" stroke="#262626" stroke-width="0.15" >SK-MEL-5</text>
<text x="245.20" y="392.20" font-size="8.3" text-anchor="middle" font-weight="normal" fill="#262626" stroke="#262626" stroke-width="0.15" >(134K)</text>
<rect x="273.50" y="336.70" width="8.20" height="28.80" fill="#9dc3e6" />
<rect x="285.70" y="351.10" width="8.20" height="14.40" fill="url(#hatch)" />
<rect x="286.20" y="351.60" width="7.2" height="13.90" fill="none" stroke="#283488" stroke-width="1"/>
<rect x="297.90" y="360.70" width="8.20" height="4.80" fill="#3141a2" />
<line x1="289.80" y1="365.50" x2="289.80" y2="370.50" stroke="#111" stroke-width="1.2" />
<text x="289.80" y="380.30" font-size="8.3" text-anchor="middle" font-weight="normal" fill="#262626" stroke="#262626" stroke-width="0.15" >SK-MEL-28</text>
<text x="289.80" y="392.20" font-size="8.3" text-anchor="middle" font-weight="normal" fill="#262626" stroke="#262626" stroke-width="0.15" >(450K)</text>
<rect x="356.00" y="194.00" width="11.40" height="4.20" fill="#9dc3e6" />
<text x="372.50" y="199.00" font-size="8.2" text-anchor="start" font-weight="normal" fill="#262626" stroke="#262626" stroke-width="0.15" >hL49-vc-MMAE(4)</text>
<rect x="356.00" y="205.75" width="11.40" height="4.20" fill="url(#hatch)" />
<text x="372.50" y="210.75" font-size="8.2" text-anchor="start" font-weight="normal" fill="#262626" stroke="#262626" stroke-width="0.15" >hL49-MP-gluc-MMAE(4)</text>
<rect x="356.00" y="217.50" width="11.40" height="4.20" fill="#3141a2" />
<text x="372.50" y="222.50" font-size="8.2" text-anchor="start" font-weight="normal" fill="#262626" stroke="#262626" stroke-width="0.15" >hL49-MP-gluc-MMAE(8)</text>
<line x1="465.80" y1="195.80" x2="484.60" y2="195.80" stroke="#8ab4e0" stroke-width="1.3" />
<rect x="473.20" y="194.00" width="3.60" height="3.60" fill="#8ab4e0" />
<line x1="465.80" y1="207.65" x2="484.60" y2="207.65" stroke="#2f3a98" stroke-width="1.3" stroke-dasharray="3,2"/>
<circle cx="475.00" cy="207.65" r="1.9" fill="#fff" stroke="#2f3a98" stroke-width="1.1"/>
<line x1="465.80" y1="219.50" x2="484.60" y2="219.50" stroke="#2f3a98" stroke-width="1.3" />
<circle cx="475.00" cy="219.50" r="2" fill="#2f3a98"/>
<line x1="355.20" y1="256.00" x2="355.20" y2="363.90" stroke="#111" stroke-width="1.2" />
<line x1="354.70" y1="363.40" x2="488.40" y2="363.40" stroke="#111" stroke-width="1.2" />
<line x1="352.20" y1="363.40" x2="355.20" y2="363.40" stroke="#111" stroke-width="1.3" />
<text x="350.20" y="366.00" font-size="6.8" text-anchor="end" font-weight="bold" fill="#1a1a1a" stroke="#1a1a1a" stroke-width="0.0" >0</text>
<line x1="352.20" y1="345.58" x2="355.20" y2="345.58" stroke="#111" stroke-width="1.3" />
<text x="350.20" y="348.18" font-size="6.8" text-anchor="end" font-weight="bold" fill="#1a1a1a" stroke="#1a1a1a" stroke-width="0.0" >25</text>
<line x1="352.20" y1="327.76" x2="355.20" y2="327.76" stroke="#111" stroke-width="1.3" />
<text x="350.20" y="330.36" font-size="6.8" text-anchor="end" font-weight="bold" fill="#1a1a1a" stroke="#1a1a1a" stroke-width="0.0" >50</text>
<line x1="352.20" y1="309.94" x2="355.20" y2="309.94" stroke="#111" stroke-width="1.3" />
<text x="350.20" y="312.54" font-size="6.8" text-anchor="end" font-weight="bold" fill="#1a1a1a" stroke="#1a1a1a" stroke-width="0.0" >75</text>
<line x1="352.20" y1="292.12" x2="355.20" y2="292.12" stroke="#111" stroke-width="1.3" />
<text x="350.20" y="294.72" font-size="6.8" text-anchor="end" font-weight="bold" fill="#1a1a1a" stroke="#1a1a1a" stroke-width="0.0" >100</text>
<line x1="352.20" y1="274.30" x2="355.20" y2="274.30" stroke="#111" stroke-width="1.3" />
<text x="350.20" y="276.90" font-size="6.8" text-anchor="end" font-weight="bold" fill="#1a1a1a" stroke="#1a1a1a" stroke-width="0.0" >125</text>
<line x1="352.20" y1="256.48" x2="355.20" y2="256.48" stroke="#111" stroke-width="1.3" />
<text x="350.20" y="259.08" font-size="6.8" text-anchor="end" font-weight="bold" fill="#1a1a1a" stroke="#1a1a1a" stroke-width="0.0" >150</text>
<line x1="355.20" y1="363.40" x2="355.20" y2="366.40" stroke="#111" stroke-width="1.3" />
<text x="355.20" y="374.40" font-size="6.8" text-anchor="middle" font-weight="bold" fill="#1a1a1a" stroke="#1a1a1a" stroke-width="0.0" >0.01</text>
<line x1="377.40" y1="363.40" x2="377.40" y2="366.40" stroke="#111" stroke-width="1.3" />
<text x="377.40" y="374.40" font-size="6.8" text-anchor="middle" font-weight="bold" fill="#1a1a1a" stroke="#1a1a1a" stroke-width="0.0" >0.1</text>
<line x1="399.60" y1="363.40" x2="399.60" y2="366.40" stroke="#111" stroke-width="1.3" />
<text x="399.60" y="374.40" font-size="6.8" text-anchor="middle" font-weight="bold" fill="#1a1a1a" stroke="#1a1a1a" stroke-width="0.0" >1</text>
<line x1="421.80" y1="363.40" x2="421.80" y2="366.40" stroke="#111" stroke-width="1.3" />
<text x="421.80" y="374.40" font-size="6.8" text-anchor="middle" font-weight="bold" fill="#1a1a1a" stroke="#1a1a1a" stroke-width="0.0" >10</text>
<line x1="444.00" y1="363.40" x2="444.00" y2="366.40" stroke="#111" stroke-width="1.3" />
<text x="444.00" y="374.40" font-size="6.8" text-anchor="middle" font-weight="bold" fill="#1a1a1a" stroke="#1a1a1a" stroke-width="0.0" >100</text>
<line x1="466.20" y1="363.40" x2="466.20" y2="366.40" stroke="#111" stroke-width="1.3" />
<text x="466.20" y="374.40" font-size="6.8" text-anchor="middle" font-weight="bold" fill="#1a1a1a" stroke="#1a1a1a" stroke-width="0.0" >1,000</text>
<line x1="488.40" y1="363.40" x2="488.40" y2="366.40" stroke="#111" stroke-width="1.3" />
<text x="488.40" y="374.40" font-size="6.8" text-anchor="middle" font-weight="bold" fill="#1a1a1a" stroke="#1a1a1a" stroke-width="0.0" >10,000</text>
<text x="422.70" y="255.50" font-size="9.4" text-anchor="middle" font-weight="normal" fill="#262626" stroke="#262626" stroke-width="0.15" >A2058</text>
<text x="418.00" y="386.20" font-size="8.7" text-anchor="middle" font-weight="normal" fill="#262626" stroke="#262626" stroke-width="0.15" >Days post tumor implant</text>
<text x="0.00" y="0.00" font-size="9.2" text-anchor="middle" font-weight="normal" fill="#262626" stroke="#262626" stroke-width="0.15" transform="translate(334.2,312.3) rotate(-90)">Mean tumor volume (mm<tspan font-size="5.5" dy="-3.5">3</tspan><tspan dy="3.5">)</tspan></text>
<line x1="355.20" y1="327.76" x2="488.40" y2="327.76" stroke="#777" stroke-width="1.2" stroke-dasharray="3.3,2.3"/>
<polyline points="377.40,294.40 378.51,294.43 379.62,294.47 380.73,294.51 381.84,294.56 382.95,294.62 384.06,294.69 385.17,294.78 386.28,294.88 387.39,295.01 388.50,295.16 389.61,295.34 390.72,295.55 391.83,295.81 392.94,296.11 394.05,296.48 395.16,296.91 396.27,297.42 397.38,298.02 398.49,298.73 399.60,299.56 400.71,300.54 401.82,301.66 402.93,302.97 404.04,304.46 405.15,306.15 406.26,308.05 407.37,310.17 408.48,312.51 409.59,315.04 410.70,317.75 411.81,320.62 412.92,323.59 414.03,326.62 415.14,329.67 416.25,332.68 417.36,335.61 418.47,338.40 419.58,341.03 420.69,343.47 421.80,345.70 422.91,347.71 424.02,349.51 425.13,351.11 426.24,352.50 427.35,353.72 428.46,354.76 429.57,355.67 430.68,356.44 431.79,357.09 432.90,357.65 434.01,358.12 435.12,358.51 436.23,358.85 437.34,359.13 438.45,359.36 439.56,359.56 440.67,359.72 441.78,359.86 442.89,359.98 444.00,360.07 445.11,360.15 446.22,360.22 447.33,360.27 448.44,360.32 449.55,360.36 450.66,360.39 451.77,360.42 452.88,360.44 453.99,360.46 455.10,360.47 456.21,360.49 457.32,360.50 458.43,360.50 459.54,360.51 460.65,360.52 461.76,360.52 462.87,360.53 463.98,360.53 465.09,360.53 466.20,360.54 467.31,360.54 468.42,360.54 469.53,360.54 470.64,360.54 471.75,360.54 472.86,360.54 473.97,360.55 475.08,360.55 476.19,360.55" fill="none" stroke="#2f3a98" stroke-width="1.3" />
<polyline points="377.40,297.82 378.51,297.82 379.62,297.82 380.73,297.82 381.84,297.82 382.95,297.82 384.06,297.82 385.17,297.82 386.28,297.82 387.39,297.82 388.50,297.82 389.61,297.82 390.72,297.82 391.83,297.82 392.94,297.82 394.05,297.82 395.16,297.82 396.27,297.82 397.38,297.82 398.49,297.82 399.60,297.82 400.71,297.82 401.82,297.82 402.93,297.82 404.04,297.82 405.15,297.82 406.26,297.82 407.37,297.82 408.48,297.82 409.59,297.82 410.70,297.82 411.81,297.82 412.92,297.82 414.03,297.82 415.14,297.82 416.25,297.82 417.36,297.82 418.47,297.82 419.58,297.82 420.69,297.82 421.80,297.82 422.91,297.82 424.02,297.82 425.13,297.82 426.24,297.82 427.35,297.82 428.46,297.82 429.57,297.82 430.68,297.82 431.79,297.82 432.90,297.82 434.01,297.82 435.12,297.82 436.23,297.82 437.34,297.82 438.45,297.82 439.56,297.82 440.67,297.83 441.78,297.83 442.89,297.83 444.00,297.83 445.11,297.83 446.22,297.84 447.33,297.84 448.44,297.85 449.55,297.85 450.66,297.86 451.77,297.88 452.88,297.90 453.99,297.92 455.10,297.95 456.21,297.99 457.32,298.05 458.43,298.13 459.54,298.23 460.65,298.36 461.76,298.53 462.87,298.76 463.98,299.05 465.09,299.43 466.20,299.92 467.31,300.53 468.42,301.30 469.53,302.24 470.64,303.35 471.75,304.64 472.86,306.09 473.97,307.66 475.08,309.29 476.19,310.92" fill="none" stroke="#8ab4e0" stroke-width="1.3" />
<polyline points="377.40,293.13 378.51,293.15 379.62,293.18 380.73,293.22 381.84,293.26 382.95,293.30 384.06,293.34 385.17,293.39 386.28,293.44 387.39,293.50 388.50,293.56 389.61,293.63 390.72,293.71 391.83,293.79 392.94,293.88 394.05,293.98 395.16,294.09 396.27,294.20 397.38,294.33 398.49,294.47 399.60,294.62 400.71,294.79 401.82,294.97 402.93,295.17 404.04,295.38 405.15,295.61 406.26,295.86 407.37,296.14 408.48,296.43 409.59,296.75 410.70,297.10 411.81,297.47 412.92,297.87 414.03,298.30 415.14,298.77 416.25,299.27 417.36,299.80 418.47,300.37 419.58,300.97 420.69,301.62 421.80,302.30 422.91,303.03 424.02,303.79 425.13,304.60 426.24,305.44 427.35,306.32 428.46,307.24 429.57,308.20 430.68,309.19 431.79,310.21 432.90,311.26 434.01,312.33 435.12,313.43 436.23,314.54 437.34,315.66 438.45,316.79 439.56,317.92 440.67,319.05 441.78,320.17 442.89,321.28 444.00,322.38 445.11,323.46 446.22,324.51 447.33,325.53 448.44,326.53 449.55,327.49 450.66,328.41 451.77,329.30 452.88,330.15 453.99,330.96 455.10,331.73 456.21,332.46 457.32,333.15 458.43,333.80 459.54,334.41 460.65,334.98 461.76,335.52 462.87,336.02 463.98,336.49 465.09,336.92 466.20,337.33 467.31,337.71 468.42,338.05 469.53,338.38 470.64,338.68 471.75,338.95 472.86,339.21 473.97,339.44 475.08,339.66 476.19,339.85" fill="none" stroke="#2f3a98" stroke-width="1.6" stroke-dasharray="3.5,4.5"/>
<line x1="377.40" y1="297.11" x2="377.40" y2="292.83" stroke="#2f3a98" stroke-width="1.2" />
<line x1="374.90" y1="292.83" x2="379.90" y2="292.83" stroke="#2f3a98" stroke-width="1.1" />
<line x1="374.90" y1="297.11" x2="379.90" y2="297.11" stroke="#2f3a98" stroke-width="1.1" />
<circle cx="377.40" cy="294.97" r="2.2" fill="#2f3a98"/>
<line x1="387.99" y1="293.55" x2="387.99" y2="290.69" stroke="#2f3a98" stroke-width="1.2" />
<line x1="385.49" y1="290.69" x2="390.49" y2="290.69" stroke="#2f3a98" stroke-width="1.1" />
<line x1="385.49" y1="293.55" x2="390.49" y2="293.55" stroke="#2f3a98" stroke-width="1.1" />
<circle cx="387.99" cy="292.12" r="2.2" fill="#2f3a98"/>
<line x1="398.58" y1="296.40" x2="398.58" y2="292.12" stroke="#2f3a98" stroke-width="1.2" />
<line x1="396.08" y1="292.12" x2="401.08" y2="292.12" stroke="#2f3a98" stroke-width="1.1" />
<line x1="396.08" y1="296.40" x2="401.08" y2="296.40" stroke="#2f3a98" stroke-width="1.1" />
<circle cx="398.58" cy="294.26" r="2.2" fill="#2f3a98"/>
<line x1="409.18" y1="323.48" x2="409.18" y2="316.36" stroke="#2f3a98" stroke-width="1.2" />
<line x1="406.68" y1="316.36" x2="411.68" y2="316.36" stroke="#2f3a98" stroke-width="1.1" />
<line x1="406.68" y1="323.48" x2="411.68" y2="323.48" stroke="#2f3a98" stroke-width="1.1" />
<circle cx="409.18" cy="319.92" r="2.2" fill="#2f3a98"/>
<line x1="419.77" y1="344.15" x2="419.77" y2="335.60" stroke="#2f3a98" stroke-width="1.2" />
<line x1="417.27" y1="335.60" x2="422.27" y2="335.60" stroke="#2f3a98" stroke-width="1.1" />
<line x1="417.27" y1="344.15" x2="422.27" y2="344.15" stroke="#2f3a98" stroke-width="1.1" />
<circle cx="419.77" cy="339.88" r="2.2" fill="#2f3a98"/>
<circle cx="430.36" cy="355.70" r="2.2" fill="#2f3a98"/>
<circle cx="440.95" cy="360.69" r="2.2" fill="#2f3a98"/>
<circle cx="451.54" cy="360.41" r="2.2" fill="#2f3a98"/>
<circle cx="462.14" cy="360.91" r="2.2" fill="#2f3a98"/>
<circle cx="472.73" cy="360.91" r="2.2" fill="#2f3a98"/>
<line x1="377.40" y1="296.40" x2="377.40" y2="292.12" stroke="#2f3a98" stroke-width="1.2" />
<line x1="374.90" y1="292.12" x2="379.90" y2="292.12" stroke="#2f3a98" stroke-width="1.1" />
<line x1="374.90" y1="296.40" x2="379.90" y2="296.40" stroke="#2f3a98" stroke-width="1.1" />
<circle cx="377.40" cy="294.26" r="2.2" fill="#fff" stroke="#2f3a98" stroke-width="1.3"/>
<line x1="387.99" y1="293.55" x2="387.99" y2="290.69" stroke="#2f3a98" stroke-width="1.2" />
<line x1="385.49" y1="290.69" x2="390.49" y2="290.69" stroke="#2f3a98" stroke-width="1.1" />
<line x1="385.49" y1="293.55" x2="390.49" y2="293.55" stroke="#2f3a98" stroke-width="1.1" />
<circle cx="387.99" cy="292.12" r="2.2" fill="#fff" stroke="#2f3a98" stroke-width="1.3"/>
<line x1="398.58" y1="299.96" x2="398.58" y2="288.56" stroke="#2f3a98" stroke-width="1.2" />
<line x1="396.08" y1="288.56" x2="401.08" y2="288.56" stroke="#2f3a98" stroke-width="1.1" />
<line x1="396.08" y1="299.96" x2="401.08" y2="299.96" stroke="#2f3a98" stroke-width="1.1" />
<circle cx="398.58" cy="294.26" r="2.2" fill="#fff" stroke="#2f3a98" stroke-width="1.3"/>
<line x1="409.18" y1="299.96" x2="409.18" y2="289.98" stroke="#2f3a98" stroke-width="1.2" />
<line x1="406.68" y1="289.98" x2="411.68" y2="289.98" stroke="#2f3a98" stroke-width="1.1" />
<line x1="406.68" y1="299.96" x2="411.68" y2="299.96" stroke="#2f3a98" stroke-width="1.1" />
<circle cx="409.18" cy="294.97" r="2.2" fill="#fff" stroke="#2f3a98" stroke-width="1.3"/>
<line x1="419.77" y1="316.36" x2="419.77" y2="304.95" stroke="#2f3a98" stroke-width="1.2" />
<line x1="417.27" y1="304.95" x2="422.27" y2="304.95" stroke="#2f3a98" stroke-width="1.1" />
<line x1="417.27" y1="316.36" x2="422.27" y2="316.36" stroke="#2f3a98" stroke-width="1.1" />
<circle cx="419.77" cy="310.65" r="2.2" fill="#fff" stroke="#2f3a98" stroke-width="1.3"/>
<line x1="430.36" y1="318.49" x2="430.36" y2="312.79" stroke="#2f3a98" stroke-width="1.2" />
<line x1="427.86" y1="312.79" x2="432.86" y2="312.79" stroke="#2f3a98" stroke-width="1.1" />
<line x1="427.86" y1="318.49" x2="432.86" y2="318.49" stroke="#2f3a98" stroke-width="1.1" />
<circle cx="430.36" cy="315.64" r="2.2" fill="#fff" stroke="#2f3a98" stroke-width="1.3"/>
<line x1="440.95" y1="330.97" x2="440.95" y2="323.84" stroke="#2f3a98" stroke-width="1.2" />
<line x1="438.45" y1="323.84" x2="443.45" y2="323.84" stroke="#2f3a98" stroke-width="1.1" />
<line x1="438.45" y1="330.97" x2="443.45" y2="330.97" stroke="#2f3a98" stroke-width="1.1" />
<circle cx="440.95" cy="327.40" r="2.2" fill="#fff" stroke="#2f3a98" stroke-width="1.3"/>
<circle cx="451.54" cy="335.60" r="2.2" fill="#fff" stroke="#2f3a98" stroke-width="1.3"/>
<line x1="462.14" y1="334.89" x2="462.14" y2="324.91" stroke="#2f3a98" stroke-width="1.2" />
<line x1="459.64" y1="324.91" x2="464.64" y2="324.91" stroke="#2f3a98" stroke-width="1.1" />
<line x1="459.64" y1="334.89" x2="464.64" y2="334.89" stroke="#2f3a98" stroke-width="1.1" />
<circle cx="462.14" cy="329.90" r="2.2" fill="#fff" stroke="#2f3a98" stroke-width="1.3"/>
<line x1="472.73" y1="350.57" x2="472.73" y2="337.74" stroke="#2f3a98" stroke-width="1.2" />
<line x1="470.23" y1="337.74" x2="475.23" y2="337.74" stroke="#2f3a98" stroke-width="1.1" />
<line x1="470.23" y1="350.57" x2="475.23" y2="350.57" stroke="#2f3a98" stroke-width="1.1" />
<circle cx="472.73" cy="344.15" r="2.2" fill="#fff" stroke="#2f3a98" stroke-width="1.3"/>
<line x1="377.40" y1="304.95" x2="377.40" y2="296.40" stroke="#8ab4e0" stroke-width="1.2" />
<line x1="374.90" y1="296.40" x2="379.90" y2="296.40" stroke="#8ab4e0" stroke-width="1.1" />
<line x1="374.90" y1="304.95" x2="379.90" y2="304.95" stroke="#8ab4e0" stroke-width="1.1" />
<rect x="375.30" y="298.57" width="4.20" height="4.20" fill="#9cc0e6" opacity="0.9"/>
<line x1="387.99" y1="297.11" x2="387.99" y2="291.41" stroke="#8ab4e0" stroke-width="1.2" />
<line x1="385.49" y1="291.41" x2="390.49" y2="291.41" stroke="#8ab4e0" stroke-width="1.1" />
<line x1="385.49" y1="297.11" x2="390.49" y2="297.11" stroke="#8ab4e0" stroke-width="1.1" />
<rect x="385.89" y="292.16" width="4.20" height="4.20" fill="#9cc0e6" opacity="0.9"/>
<line x1="398.58" y1="299.96" x2="398.58" y2="294.26" stroke="#8ab4e0" stroke-width="1.2" />
<line x1="396.08" y1="294.26" x2="401.08" y2="294.26" stroke="#8ab4e0" stroke-width="1.1" />
<line x1="396.08" y1="299.96" x2="401.08" y2="299.96" stroke="#8ab4e0" stroke-width="1.1" />
<rect x="396.48" y="295.01" width="4.20" height="4.20" fill="#9cc0e6" opacity="0.9"/>
<line x1="409.18" y1="297.82" x2="409.18" y2="292.12" stroke="#8ab4e0" stroke-width="1.2" />
<line x1="406.68" y1="292.12" x2="411.68" y2="292.12" stroke="#8ab4e0" stroke-width="1.1" />
<line x1="406.68" y1="297.82" x2="411.68" y2="297.82" stroke="#8ab4e0" stroke-width="1.1" />
<rect x="407.08" y="292.87" width="4.20" height="4.20" fill="#9cc0e6" opacity="0.9"/>
<line x1="419.77" y1="302.81" x2="419.77" y2="295.68" stroke="#8ab4e0" stroke-width="1.2" />
<line x1="417.27" y1="295.68" x2="422.27" y2="295.68" stroke="#8ab4e0" stroke-width="1.1" />
<line x1="417.27" y1="302.81" x2="422.27" y2="302.81" stroke="#8ab4e0" stroke-width="1.1" />
<rect x="417.67" y="297.15" width="4.20" height="4.20" fill="#9cc0e6" opacity="0.9"/>
<line x1="430.36" y1="303.52" x2="430.36" y2="296.40" stroke="#8ab4e0" stroke-width="1.2" />
<line x1="427.86" y1="296.40" x2="432.86" y2="296.40" stroke="#8ab4e0" stroke-width="1.1" />
<line x1="427.86" y1="303.52" x2="432.86" y2="303.52" stroke="#8ab4e0" stroke-width="1.1" />
<rect x="428.26" y="297.86" width="4.20" height="4.20" fill="#9cc0e6" opacity="0.9"/>
<line x1="440.95" y1="300.67" x2="440.95" y2="294.97" stroke="#8ab4e0" stroke-width="1.2" />
<line x1="438.45" y1="294.97" x2="443.45" y2="294.97" stroke="#8ab4e0" stroke-width="1.1" />
<line x1="438.45" y1="300.67" x2="443.45" y2="300.67" stroke="#8ab4e0" stroke-width="1.1" />
<rect x="438.85" y="295.72" width="4.20" height="4.20" fill="#9cc0e6" opacity="0.9"/>
<line x1="451.54" y1="302.81" x2="451.54" y2="297.11" stroke="#8ab4e0" stroke-width="1.2" />
<line x1="449.04" y1="297.11" x2="454.04" y2="297.11" stroke="#8ab4e0" stroke-width="1.1" />
<line x1="449.04" y1="302.81" x2="454.04" y2="302.81" stroke="#8ab4e0" stroke-width="1.1" />
<rect x="449.44" y="297.86" width="4.20" height="4.20" fill="#9cc0e6" opacity="0.9"/>
<line x1="462.14" y1="302.10" x2="462.14" y2="296.40" stroke="#8ab4e0" stroke-width="1.2" />
<line x1="459.64" y1="296.40" x2="464.64" y2="296.40" stroke="#8ab4e0" stroke-width="1.1" />
<line x1="459.64" y1="302.10" x2="464.64" y2="302.10" stroke="#8ab4e0" stroke-width="1.1" />
<rect x="460.04" y="297.15" width="4.20" height="4.20" fill="#9cc0e6" opacity="0.9"/>
<line x1="472.73" y1="314.93" x2="472.73" y2="307.80" stroke="#8ab4e0" stroke-width="1.2" />
<line x1="470.23" y1="307.80" x2="475.23" y2="307.80" stroke="#8ab4e0" stroke-width="1.1" />
<line x1="470.23" y1="314.93" x2="475.23" y2="314.93" stroke="#8ab4e0" stroke-width="1.1" />
<rect x="470.63" y="309.27" width="4.20" height="4.20" fill="#9cc0e6" opacity="0.9"/>
<line x1="30.20" y1="424.40" x2="30.20" y2="514.30" stroke="#111" stroke-width="1.2" />
<line x1="29.70" y1="513.80" x2="165.00" y2="513.80" stroke="#111" stroke-width="1.2" />
<line x1="27.20" y1="513.80" x2="30.20" y2="513.80" stroke="#111" stroke-width="1.3" />
<text x="24.40" y="516.40" font-size="6.8" text-anchor="end" font-weight="bold" fill="#1a1a1a" stroke="#1a1a1a" stroke-width="0.0" >0.0</text>
<line x1="27.20" y1="496.00" x2="30.20" y2="496.00" stroke="#111" stroke-width="1.3" />
<text x="24.40" y="498.60" font-size="6.8" text-anchor="end" font-weight="bold" fill="#1a1a1a" stroke="#1a1a1a" stroke-width="0.0" >0.5</text>
<line x1="27.20" y1="478.20" x2="30.20" y2="478.20" stroke="#111" stroke-width="1.3" />
<text x="24.40" y="480.80" font-size="6.8" text-anchor="end" font-weight="bold" fill="#1a1a1a" stroke="#1a1a1a" stroke-width="0.0" >1.0</text>
<line x1="27.20" y1="460.40" x2="30.20" y2="460.40" stroke="#111" stroke-width="1.3" />
<text x="24.40" y="463.00" font-size="6.8" text-anchor="end" font-weight="bold" fill="#1a1a1a" stroke="#1a1a1a" stroke-width="0.0" >1.5</text>
<line x1="27.20" y1="442.60" x2="30.20" y2="442.60" stroke="#111" stroke-width="1.3" />
<text x="24.40" y="445.20" font-size="6.8" text-anchor="end" font-weight="bold" fill="#1a1a1a" stroke="#1a1a1a" stroke-width="0.0" >2.0</text>
<line x1="27.20" y1="424.80" x2="30.20" y2="424.80" stroke="#111" stroke-width="1.3" />
<text x="24.40" y="427.40" font-size="6.8" text-anchor="end" font-weight="bold" fill="#1a1a1a" stroke="#1a1a1a" stroke-width="0.0" >2.5</text>
<line x1="50.60" y1="513.80" x2="50.60" y2="517.20" stroke="#111" stroke-width="1.2" />
<rect x="40.20" y="439.75" width="20.80" height="74.05" fill="#9dc3e6" />
<line x1="50.60" y1="445.80" x2="50.60" y2="433.70" stroke="#111" stroke-width="1.4" />
<line x1="45.50" y1="433.70" x2="55.70" y2="433.70" stroke="#111" stroke-width="1.5" />
<line x1="45.50" y1="445.80" x2="55.70" y2="445.80" stroke="#111" stroke-width="1.5" />
<line x1="81.60" y1="513.80" x2="81.60" y2="517.20" stroke="#111" stroke-width="1.2" />
<rect x="71.60" y="445.45" width="20.00" height="68.35" fill="#3141a2" />
<line x1="81.60" y1="445.80" x2="81.60" y2="445.09" stroke="#111" stroke-width="1.4" />
<line x1="76.50" y1="445.09" x2="86.70" y2="445.09" stroke="#111" stroke-width="1.5" />
<line x1="76.50" y1="445.80" x2="86.70" y2="445.80" stroke="#111" stroke-width="1.5" />
<line x1="112.65" y1="513.80" x2="112.65" y2="517.20" stroke="#111" stroke-width="1.2" />
<rect x="102.40" y="500.09" width="20.50" height="13.71" fill="#9dc3e6" />
<line x1="112.65" y1="500.81" x2="112.65" y2="499.38" stroke="#111" stroke-width="1.4" />
<line x1="107.55" y1="499.38" x2="117.75" y2="499.38" stroke="#111" stroke-width="1.5" />
<line x1="107.55" y1="500.81" x2="117.75" y2="500.81" stroke="#111" stroke-width="1.5" />
<line x1="143.75" y1="513.80" x2="143.75" y2="517.20" stroke="#111" stroke-width="1.2" />
<rect x="134.00" y="492.44" width="19.50" height="21.36" fill="#3141a2" />
<line x1="143.75" y1="493.15" x2="143.75" y2="491.73" stroke="#111" stroke-width="1.4" />
<line x1="138.65" y1="491.73" x2="148.85" y2="491.73" stroke="#111" stroke-width="1.5" />
<line x1="138.65" y1="493.15" x2="148.85" y2="493.15" stroke="#111" stroke-width="1.5" />
<text x="66.30" y="527.60" font-size="9.25" text-anchor="middle" font-weight="normal" fill="#1a1a1a" stroke="#1a1a1a" stroke-width="0.15" >SK-MEL-5</text>
<text x="128.00" y="527.60" font-size="9.25" text-anchor="middle" font-weight="normal" fill="#1a1a1a" stroke="#1a1a1a" stroke-width="0.15" >A2058</text>
<text x="91.00" y="415.60" font-size="9.2" text-anchor="middle" font-weight="normal" fill="#1a1a1a" stroke="#1a1a1a" stroke-width="0.15" >Total release</text>
<text x="0.00" y="0.00" font-size="8.8" text-anchor="middle" font-weight="normal" fill="#262626" stroke="#262626" stroke-width="0.15" transform="translate(11.6,463) rotate(-90)">pmol MMAE/10<tspan font-size="5.5" dy="-3">6</tspan><tspan dy="3"> cells</tspan></text>
<line x1="217.30" y1="424.30" x2="217.30" y2="515.60" stroke="#111" stroke-width="1.2" />
<line x1="216.80" y1="515.10" x2="353.30" y2="515.10" stroke="#111" stroke-width="1.2" />
<line x1="214.30" y1="515.10" x2="217.30" y2="515.10" stroke="#111" stroke-width="1.3" />
<text x="212.70" y="517.70" font-size="6.8" text-anchor="end" font-weight="bold" fill="#1a1a1a" stroke="#1a1a1a" stroke-width="0.0" >0</text>
<line x1="214.30" y1="492.45" x2="217.30" y2="492.45" stroke="#111" stroke-width="1.3" />
<text x="212.70" y="495.05" font-size="6.8" text-anchor="end" font-weight="bold" fill="#1a1a1a" stroke="#1a1a1a" stroke-width="0.0" >100</text>
<line x1="214.30" y1="469.80" x2="217.30" y2="469.80" stroke="#111" stroke-width="1.3" />
<text x="212.70" y="472.40" font-size="6.8" text-anchor="end" font-weight="bold" fill="#1a1a1a" stroke="#1a1a1a" stroke-width="0.0" >200</text>
<line x1="214.30" y1="447.15" x2="217.30" y2="447.15" stroke="#111" stroke-width="1.3" />
<text x="212.70" y="449.75" font-size="6.8" text-anchor="end" font-weight="bold" fill="#1a1a1a" stroke="#1a1a1a" stroke-width="0.0" >300</text>
<line x1="214.30" y1="424.50" x2="217.30" y2="424.50" stroke="#111" stroke-width="1.3" />
<text x="212.70" y="427.10" font-size="6.8" text-anchor="end" font-weight="bold" fill="#1a1a1a" stroke="#1a1a1a" stroke-width="0.0" >400</text>
<line x1="238.20" y1="515.10" x2="238.20" y2="518.50" stroke="#111" stroke-width="1.2" />
<rect x="228.60" y="489.28" width="19.20" height="25.82" fill="#9dc3e6" />
<line x1="238.20" y1="493.58" x2="238.20" y2="484.98" stroke="#111" stroke-width="1.4" />
<line x1="233.10" y1="484.98" x2="243.30" y2="484.98" stroke="#111" stroke-width="1.5" />
<line x1="233.10" y1="493.58" x2="243.30" y2="493.58" stroke="#111" stroke-width="1.5" />
<line x1="269.70" y1="515.10" x2="269.70" y2="518.50" stroke="#111" stroke-width="1.2" />
<rect x="260.20" y="441.03" width="19.00" height="74.07" fill="#3141a2" />
<line x1="269.70" y1="445.79" x2="269.70" y2="436.28" stroke="#111" stroke-width="1.4" />
<line x1="264.60" y1="436.28" x2="274.80" y2="436.28" stroke="#111" stroke-width="1.5" />
<line x1="264.60" y1="445.79" x2="274.80" y2="445.79" stroke="#111" stroke-width="1.5" />
<line x1="300.85" y1="515.10" x2="300.85" y2="518.50" stroke="#111" stroke-width="1.2" />
<rect x="291.10" y="508.53" width="19.50" height="6.57" fill="#9dc3e6" />
<line x1="300.85" y1="509.78" x2="300.85" y2="507.29" stroke="#111" stroke-width="1.4" />
<line x1="295.75" y1="507.29" x2="305.95" y2="507.29" stroke="#111" stroke-width="1.5" />
<line x1="295.75" y1="509.78" x2="305.95" y2="509.78" stroke="#111" stroke-width="1.5" />
<line x1="332.15" y1="515.10" x2="332.15" y2="518.50" stroke="#111" stroke-width="1.2" />
<rect x="322.50" y="461.19" width="19.30" height="53.91" fill="#3141a2" />
<line x1="332.15" y1="467.08" x2="332.15" y2="455.30" stroke="#111" stroke-width="1.4" />
<line x1="327.05" y1="455.30" x2="337.25" y2="455.30" stroke="#111" stroke-width="1.5" />
<line x1="327.05" y1="467.08" x2="337.25" y2="467.08" stroke="#111" stroke-width="1.5" />
<text x="252.50" y="527.30" font-size="9.25" text-anchor="middle" font-weight="normal" fill="#1a1a1a" stroke="#1a1a1a" stroke-width="0.15" >SK-MEL-5</text>
<text x="315.80" y="527.30" font-size="9.25" text-anchor="middle" font-weight="normal" fill="#1a1a1a" stroke="#1a1a1a" stroke-width="0.15" >A2058</text>
<text x="278.00" y="416.20" font-size="9.2" text-anchor="middle" font-weight="normal" fill="#1a1a1a" stroke="#1a1a1a" stroke-width="0.15" >Intracellular MMAE</text>
<text x="0.00" y="0.00" font-size="9" text-anchor="middle" font-weight="normal" fill="#262626" stroke="#262626" stroke-width="0.15" transform="translate(196,471.7) rotate(-90)">Intracellular MMAE (nmol/L)</text>
<line x1="383.10" y1="424.00" x2="383.10" y2="514.50" stroke="#111" stroke-width="1.2" />
<line x1="382.60" y1="514.00" x2="518.30" y2="514.00" stroke="#111" stroke-width="1.2" />
<line x1="380.10" y1="514.00" x2="383.10" y2="514.00" stroke="#111" stroke-width="1.3" />
<text x="378.50" y="516.60" font-size="6.8" text-anchor="end" font-weight="bold" fill="#1a1a1a" stroke="#1a1a1a" stroke-width="0.0" >0</text>
<line x1="380.10" y1="484.00" x2="383.10" y2="484.00" stroke="#111" stroke-width="1.3" />
<text x="378.50" y="486.60" font-size="6.8" text-anchor="end" font-weight="bold" fill="#1a1a1a" stroke="#1a1a1a" stroke-width="0.0" >20</text>
<line x1="380.10" y1="454.00" x2="383.10" y2="454.00" stroke="#111" stroke-width="1.3" />
<text x="378.50" y="456.60" font-size="6.8" text-anchor="end" font-weight="bold" fill="#1a1a1a" stroke="#1a1a1a" stroke-width="0.0" >40</text>
<line x1="380.10" y1="424.00" x2="383.10" y2="424.00" stroke="#111" stroke-width="1.3" />
<text x="378.50" y="426.60" font-size="6.8" text-anchor="end" font-weight="bold" fill="#1a1a1a" stroke="#1a1a1a" stroke-width="0.0" >60</text>
<line x1="403.85" y1="514.00" x2="403.85" y2="517.40" stroke="#111" stroke-width="1.2" />
<rect x="394.00" y="496.60" width="19.70" height="17.40" fill="#9dc3e6" />
<line x1="403.85" y1="498.10" x2="403.85" y2="495.10" stroke="#111" stroke-width="1.4" />
<line x1="398.75" y1="495.10" x2="408.95" y2="495.10" stroke="#111" stroke-width="1.5" />
<line x1="398.75" y1="498.10" x2="408.95" y2="498.10" stroke="#111" stroke-width="1.5" />
<line x1="434.90" y1="514.00" x2="434.90" y2="517.40" stroke="#111" stroke-width="1.2" />
<rect x="425.20" y="469.60" width="19.40" height="44.40" fill="#3141a2" />
<line x1="434.90" y1="470.12" x2="434.90" y2="469.07" stroke="#111" stroke-width="1.4" />
<line x1="429.80" y1="469.07" x2="440.00" y2="469.07" stroke="#111" stroke-width="1.5" />
<line x1="429.80" y1="470.12" x2="440.00" y2="470.12" stroke="#111" stroke-width="1.5" />
<line x1="466.30" y1="514.00" x2="466.30" y2="517.40" stroke="#111" stroke-width="1.2" />
<rect x="456.70" y="495.40" width="19.20" height="18.60" fill="#9dc3e6" />
<line x1="466.30" y1="496.15" x2="466.30" y2="494.65" stroke="#111" stroke-width="1.4" />
<line x1="461.20" y1="494.65" x2="471.40" y2="494.65" stroke="#111" stroke-width="1.5" />
<line x1="461.20" y1="496.15" x2="471.40" y2="496.15" stroke="#111" stroke-width="1.5" />
<line x1="497.60" y1="514.00" x2="497.60" y2="517.40" stroke="#111" stroke-width="1.2" />
<rect x="488.20" y="430.60" width="18.80" height="83.40" fill="#3141a2" />
<line x1="497.60" y1="431.35" x2="497.60" y2="429.85" stroke="#111" stroke-width="1.4" />
<line x1="492.50" y1="429.85" x2="502.70" y2="429.85" stroke="#111" stroke-width="1.5" />
<line x1="492.50" y1="431.35" x2="502.70" y2="431.35" stroke="#111" stroke-width="1.5" />
<text x="418.80" y="525.50" font-size="9.25" text-anchor="middle" font-weight="normal" fill="#1a1a1a" stroke="#1a1a1a" stroke-width="0.15" >SK-MEL-5</text>
<text x="482.60" y="525.50" font-size="9.25" text-anchor="middle" font-weight="normal" fill="#1a1a1a" stroke="#1a1a1a" stroke-width="0.15" >A2058</text>
<text x="444.75" y="417.80" font-size="9.2" text-anchor="middle" font-weight="normal" fill="#1a1a1a" stroke="#1a1a1a" stroke-width="0.15" >MMAE retention in cells</text>
<text x="0.00" y="0.00" font-size="9.3" text-anchor="middle" font-weight="normal" fill="#262626" stroke="#262626" stroke-width="0.15" transform="translate(368.4,468) rotate(-90)">% Retention</text>
<rect x="98" y="420.3" width="79.2" height="30.2" fill="#fff" stroke="#333" stroke-width="0.9"/>
<rect x="101.40" y="424.10" width="11.40" height="9.10" fill="#9dc3e6" />
<rect x="101.40" y="437.80" width="11.40" height="9.10" fill="#3141a2" />
<text x="115.50" y="432.20" font-size="7.4" text-anchor="start" font-weight="normal" fill="#262626" stroke="#262626" stroke-width="0.15" >hL49-vc-MMAE(4)</text>
<text x="115.50" y="444.80" font-size="7.4" text-anchor="start" font-weight="normal" fill="#262626" stroke="#262626" stroke-width="0.15" >SGN-CD228A(8)</text>
</svg></body></html>
